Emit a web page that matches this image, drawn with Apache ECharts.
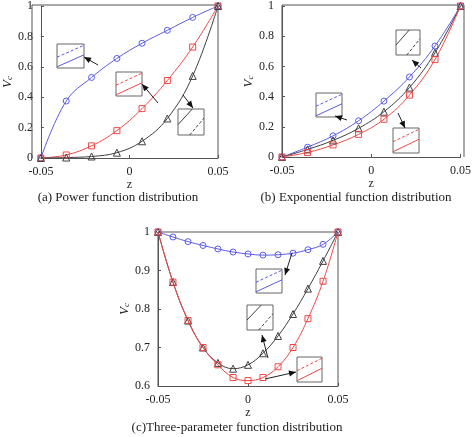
<!DOCTYPE html><html><head><meta charset="utf-8"><script src="https://cdn.jsdelivr.net/npm/echarts@6/dist/echarts.min.js"></script>
<style>html,body{margin:0;padding:0;background:#fff}#c{width:474px;height:437px}</style></head><body><div id="c"></div><script>
const zAB=[-0.05,-0.0357,-0.0214,-0.0071,0.0071,0.0214,0.0357,0.05];
const aBlue=[0,0.375,0.53,0.655,0.755,0.84,0.925,1];
const aRed=[0,0.02,0.08,0.18,0.325,0.51,0.73,1];
const aBlack=[0,0.003,0.01,0.035,0.11,0.26,0.54,1];
const bBlue=[0,0.065,0.14,0.24,0.37,0.53,0.735,1];
const bBlack=[0,0.05,0.11,0.19,0.30,0.46,0.69,1];
const bRed=[0,0.03,0.08,0.15,0.25,0.41,0.645,1];
const zC=[-0.05,-0.0417,-0.0333,-0.025,-0.0167,-0.0083,0,0.0083,0.0167,0.025,0.0333,0.0417,0.05];
const cBlue=[1,0.987,0.975,0.965,0.956,0.948,0.943,0.94,0.941,0.945,0.954,0.968,1];
const cBlack=[1,0.87,0.77,0.70,0.66,0.645,0.655,0.685,0.73,0.787,0.853,0.925,1];
const cRed=[1,0.87,0.77,0.70,0.655,0.622,0.614,0.622,0.65,0.70,0.775,0.872,1];
const F='Liberation Serif';
const BL='#5a5ae6',RD='#f04848',BK='#404040';
const grids=[{left:32,top:5,width:186,height:153},{left:282,top:5,width:182,height:152},{left:158,top:232,width:180,height:154}];
function xa(i){return {type:'value',gridIndex:i,min:-0.05,max:0.05,interval:0.05,name:'z',nameLocation:'middle',nameGap:18,
 nameTextStyle:{fontFamily:F,fontSize:12,color:'#222'},axisLine:{onZero:false,lineStyle:{color:'#555'}},axisTick:{inside:true,length:3},
 axisLabel:{fontFamily:F,fontSize:12,color:'#222',formatter:v=>v===0?'0':String(+v.toFixed(2))},splitLine:{show:false}};}
function ya(i,min,iv){return {type:'value',gridIndex:i,min:min,max:1,interval:iv,name:'{i|V}{s|c}',nameLocation:'middle',nameGap:i==2?26:22,nameRotate:90,
 nameTextStyle:{rich:{i:{fontFamily:F,fontStyle:'italic',fontSize:13,color:'#222'},s:{fontFamily:F,fontStyle:'italic',fontSize:9,color:'#222',verticalAlign:'bottom'}}},
 axisLine:{onZero:false,lineStyle:{color:'#555'}},axisTick:{inside:true,length:3},
 axisLabel:{fontFamily:F,fontSize:12,color:'#222',formatter:v=>String(+v.toFixed(1))},splitLine:{show:false}};}
function s(i,xs,ys,c,sym){return {type:'line',xAxisIndex:i,yAxisIndex:i,data:xs.map((x,k)=>[x,ys[k]]),smooth:0.4,symbol:sym,symbolSize:sym==='triangle'?7:6,
 lineStyle:{color:c,width:1},itemStyle:{color:'transparent',borderColor:c,borderWidth:1},showSymbol:true,z:3};}
const g=[];
function inset(x,y,w,h,c1,c2){
 g.push({type:'rect',shape:{x,y,width:w,height:h},style:{fill:'#fff',stroke:'#666',lineWidth:1},z:10});
 g.push({type:'line',shape:{x1:x,y1:y+h*0.55,x2:x+w,y2:y+h*0.05},style:{stroke:c1,lineWidth:1,lineDash:[3,2]},z:11});
 g.push({type:'line',shape:{x1:x,y1:y+h*0.95,x2:x+w,y2:y+h*0.45},style:{stroke:c2,lineWidth:1},z:11});
}
function insetV(x,y,w,h,c){
 g.push({type:'rect',shape:{x,y,width:w,height:h},style:{fill:'#fff',stroke:'#666',lineWidth:1},z:10});
 g.push({type:'line',shape:{x1:x,y1:y+h*0.6,x2:x+w*0.55,y2:y},style:{stroke:c,lineWidth:1},z:11});
 g.push({type:'line',shape:{x1:x+w*0.45,y1:y+h,x2:x+w,y2:y+h*0.35},style:{stroke:c,lineWidth:1,lineDash:[3,2]},z:11});
}
function arrow(x1,y1,x2,y2){
 g.push({type:'line',shape:{x1,y1,x2,y2},style:{stroke:'#222',lineWidth:1},z:12});
 const a=Math.atan2(y2-y1,x2-x1),L=7,W=3;
 const bx=x2-L*Math.cos(a),by=y2-L*Math.sin(a);
 g.push({type:'polygon',shape:{points:[[x2,y2],[bx+W*Math.sin(a),by-W*Math.cos(a)],[bx-W*Math.sin(a),by+W*Math.cos(a)]]},style:{fill:'#111'},z:12});
}
inset(57,44,27,24,BL,BL);arrow(98,65,84,57);
inset(116,72,26,24,RD,RD);arrow(158,103,142,84);
insetV(178,109,26,26,BK);arrow(183,95,193,108);
insetV(396,30,24,25,BK);arrow(421,68,412,60);
inset(316,93,26,24,BL,BL);arrow(347,120,335,116);
inset(393,128,26,25,RD,RD);arrow(398,113,405,128);
inset(256,269,26,24,BL,BL);arrow(292,253,285,275);
insetV(247,305,26,25,BK);arrow(268,358,262,335);
inset(297,357,25,25,RD,RD);arrow(265,379,296,372);
grids.forEach(b=>{g.push({type:'polyline',shape:{points:[[b.left,b.top+b.height],[b.left,b.top],[b.left+b.width,b.top],[b.left+b.width,b.top+b.height]]},style:{stroke:'#555',fill:null,lineWidth:1},z:1});});
const T=(t,x,y)=>({type:'text',x,y,style:{text:t,fontFamily:F,fontSize:13,fill:'#222',textAlign:'center'},z:5});
g.push(T('(a) Power function distribution',118,191),T('(b) Exponential function distribution',356,191),T('(c)Three-parameter function distribution',237,421));
const ch=echarts.init(document.getElementById('c'));
ch.setOption({animation:false,grid:grids,
 xAxis:[xa(0),xa(1),xa(2)],yAxis:[ya(0,0,0.2),ya(1,0,0.2),ya(2,0.6,0.1)],
 series:[s(0,zAB,aBlue,BL,'circle'),s(0,zAB,aRed,RD,'rect'),s(0,zAB,aBlack,BK,'triangle'),
 s(1,zAB,bBlue,BL,'circle'),s(1,zAB,bBlack,BK,'triangle'),s(1,zAB,bRed,RD,'rect'),
 s(2,zC,cBlue,BL,'circle'),s(2,zC,cBlack,BK,'triangle'),s(2,zC,cRed,RD,'rect')],
 graphic:g});
</script></body></html>
